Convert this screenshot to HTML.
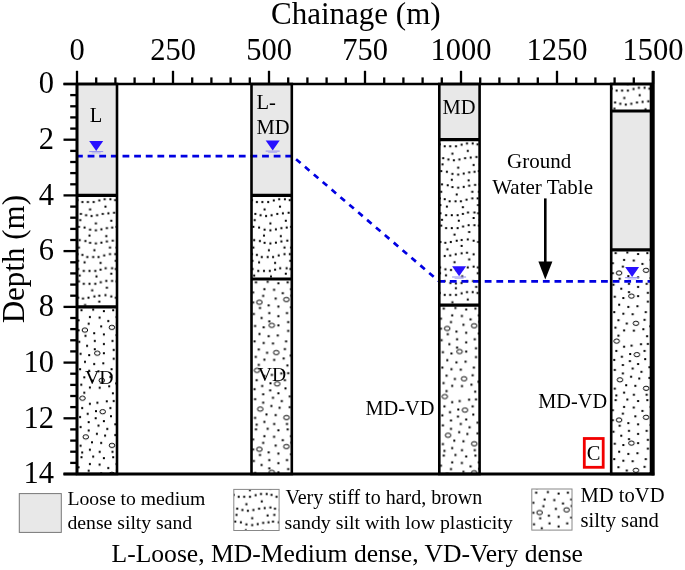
<!DOCTYPE html><html><head><meta charset="utf-8"><style>html,body{margin:0;padding:0;background:#fff;}svg{display:block;}text{font-family:"Liberation Serif", "Times New Roman", serif;fill:#000;}</style></head><body>
<svg width="685" height="570" viewBox="0 0 685 570">
<defs><pattern id="silt" patternUnits="userSpaceOnUse" x="0" y="0" width="37.8" height="148.6"><rect x="-0.20" y="4.20" width="2" height="2" fill="#000"/><rect x="37.60" y="4.20" width="2" height="2" fill="#000"/><rect x="4.80" y="6.10" width="2" height="2" fill="#000"/><rect x="10.30" y="6.10" width="2" height="2" fill="#000"/><rect x="16.10" y="6.10" width="2" height="2" fill="#000"/><rect x="21.70" y="4.50" width="2" height="2" fill="#000"/><rect x="27.10" y="3.30" width="2" height="2" fill="#000"/><rect x="32.80" y="3.30" width="2" height="2" fill="#000"/><rect x="12.50" y="13.50" width="2" height="2" fill="#000"/><rect x="27.90" y="10.70" width="2" height="2" fill="#000"/><rect x="3.30" y="18.00" width="2" height="2" fill="#000"/><rect x="8.50" y="19.30" width="2" height="2" fill="#000"/><rect x="14.00" y="20.10" width="2" height="2" fill="#000"/><rect x="19.50" y="19.30" width="2" height="2" fill="#000"/><rect x="25.20" y="18.00" width="2" height="2" fill="#000"/><rect x="30.80" y="17.40" width="2" height="2" fill="#000"/><rect x="36.50" y="16.80" width="2" height="2" fill="#000"/><rect x="-1.30" y="16.80" width="2" height="2" fill="#000"/><rect x="2.60" y="24.20" width="2" height="2" fill="#000"/><rect x="33.70" y="24.80" width="2" height="2" fill="#000"/><rect x="18.30" y="27.50" width="2" height="2" fill="#000"/><rect x="1.30" y="30.90" width="2" height="2" fill="#000"/><rect x="7.00" y="31.60" width="2" height="2" fill="#000"/><rect x="12.50" y="33.70" width="2" height="2" fill="#000"/><rect x="18.30" y="34.40" width="2" height="2" fill="#000"/><rect x="23.80" y="33.40" width="2" height="2" fill="#000"/><rect x="29.30" y="32.20" width="2" height="2" fill="#000"/><rect x="34.60" y="31.60" width="2" height="2" fill="#000"/><rect x="11.90" y="39.60" width="2" height="2" fill="#000"/><rect x="28.70" y="40.20" width="2" height="2" fill="#000"/><rect x="2.10" y="44.20" width="2" height="2" fill="#000"/><rect x="7.80" y="45.10" width="2" height="2" fill="#000"/><rect x="12.50" y="46.90" width="2" height="2" fill="#000"/><rect x="18.30" y="47.50" width="2" height="2" fill="#000"/><rect x="23.80" y="46.70" width="2" height="2" fill="#000"/><rect x="29.30" y="45.50" width="2" height="2" fill="#000"/><rect x="35.20" y="44.70" width="2" height="2" fill="#000"/><rect x="1.30" y="51.60" width="2" height="2" fill="#000"/><rect x="16.80" y="54.30" width="2" height="2" fill="#000"/><rect x="32.40" y="51.60" width="2" height="2" fill="#000"/><rect x="4.80" y="59.00" width="2" height="2" fill="#000"/><rect x="9.70" y="61.10" width="2" height="2" fill="#000"/><rect x="15.60" y="61.10" width="2" height="2" fill="#000"/><rect x="21.00" y="61.10" width="2" height="2" fill="#000"/><rect x="26.60" y="59.50" width="2" height="2" fill="#000"/><rect x="32.40" y="58.20" width="2" height="2" fill="#000"/><rect x="-0.10" y="58.20" width="2" height="2" fill="#000"/><rect x="37.70" y="58.20" width="2" height="2" fill="#000"/><rect x="7.00" y="66.40" width="2" height="2" fill="#000"/><rect x="23.00" y="67.00" width="2" height="2" fill="#000"/><rect x="0.40" y="64.90" width="2" height="2" fill="#000"/><rect x="0.50" y="73.10" width="2" height="2" fill="#000"/><rect x="6.20" y="75.00" width="2" height="2" fill="#000"/><rect x="11.90" y="75.00" width="2" height="2" fill="#000"/><rect x="17.70" y="75.00" width="2" height="2" fill="#000"/><rect x="23.00" y="73.70" width="2" height="2" fill="#000"/><rect x="28.10" y="72.30" width="2" height="2" fill="#000"/><rect x="34.50" y="72.30" width="2" height="2" fill="#000"/><rect x="2.10" y="79.60" width="2" height="2" fill="#000"/><rect x="18.90" y="80.50" width="2" height="2" fill="#000"/><rect x="33.70" y="77.80" width="2" height="2" fill="#000"/><rect x="1.30" y="85.40" width="2" height="2" fill="#000"/><rect x="6.20" y="87.90" width="2" height="2" fill="#000"/><rect x="11.90" y="87.90" width="2" height="2" fill="#000"/><rect x="17.70" y="87.90" width="2" height="2" fill="#000"/><rect x="23.20" y="86.30" width="2" height="2" fill="#000"/><rect x="28.70" y="85.00" width="2" height="2" fill="#000"/><rect x="34.50" y="85.00" width="2" height="2" fill="#000"/><rect x="14.60" y="94.40" width="2" height="2" fill="#000"/><rect x="29.30" y="91.80" width="2" height="2" fill="#000"/><rect x="0.50" y="101.80" width="2" height="2" fill="#000"/><rect x="5.40" y="102.60" width="2" height="2" fill="#000"/><rect x="10.90" y="101.80" width="2" height="2" fill="#000"/><rect x="16.80" y="100.50" width="2" height="2" fill="#000"/><rect x="21.70" y="99.80" width="2" height="2" fill="#000"/><rect x="27.90" y="99.20" width="2" height="2" fill="#000"/><rect x="33.70" y="100.50" width="2" height="2" fill="#000"/><rect x="21.70" y="105.70" width="2" height="2" fill="#000"/><rect x="7.50" y="109.10" width="2" height="2" fill="#000"/><rect x="4.80" y="115.80" width="2" height="2" fill="#000"/><rect x="10.30" y="115.30" width="2" height="2" fill="#000"/><rect x="15.80" y="114.10" width="2" height="2" fill="#000"/><rect x="21.70" y="113.10" width="2" height="2" fill="#000"/><rect x="27.10" y="112.50" width="2" height="2" fill="#000"/><rect x="33.70" y="114.10" width="2" height="2" fill="#000"/><rect x="29.30" y="119.20" width="2" height="2" fill="#000"/><rect x="14.60" y="122.00" width="2" height="2" fill="#000"/><rect x="0.20" y="127.20" width="2" height="2" fill="#000"/><rect x="5.50" y="129.10" width="2" height="2" fill="#000"/><rect x="11.10" y="129.80" width="2" height="2" fill="#000"/><rect x="16.60" y="130.00" width="2" height="2" fill="#000"/><rect x="22.20" y="128.80" width="2" height="2" fill="#000"/><rect x="27.90" y="127.20" width="2" height="2" fill="#000"/><rect x="33.70" y="126.40" width="2" height="2" fill="#000"/><rect x="0.10" y="133.00" width="2" height="2" fill="#000"/><rect x="37.90" y="133.00" width="2" height="2" fill="#000"/><rect x="6.10" y="135.10" width="2" height="2" fill="#000"/><rect x="22.30" y="136.10" width="2" height="2" fill="#000"/><rect x="4.80" y="140.90" width="2" height="2" fill="#000"/><rect x="10.50" y="142.80" width="2" height="2" fill="#000"/><rect x="16.00" y="143.20" width="2" height="2" fill="#000"/><rect x="21.60" y="142.80" width="2" height="2" fill="#000"/><rect x="27.20" y="140.90" width="2" height="2" fill="#000"/><rect x="33.20" y="140.90" width="2" height="2" fill="#000"/><rect x="36.30" y="146.70" width="2" height="2" fill="#000"/><rect x="36.30" y="-1.90" width="2" height="2" fill="#000"/><rect x="-1.50" y="146.70" width="2" height="2" fill="#000"/><rect x="-1.50" y="-1.90" width="2" height="2" fill="#000"/><rect x="16.00" y="-0.60" width="2" height="2" fill="#000"/><rect x="16.00" y="148.00" width="2" height="2" fill="#000"/></pattern><pattern id="sand" patternUnits="userSpaceOnUse" x="0" y="0" width="42" height="147"><rect x="3.50" y="2.10" width="2" height="2" fill="#000"/><rect x="15.20" y="1.50" width="2" height="2" fill="#000"/><rect x="25.90" y="3.00" width="2" height="2" fill="#000"/><rect x="35.20" y="2.10" width="2" height="2" fill="#000"/><rect x="11.90" y="8.90" width="2" height="2" fill="#000"/><rect x="21.60" y="9.50" width="2" height="2" fill="#000"/><rect x="30.30" y="12.90" width="2" height="2" fill="#000"/><rect x="0.60" y="12.20" width="2" height="2" fill="#000"/><rect x="10.70" y="15.60" width="2" height="2" fill="#000"/><rect x="23.20" y="18.30" width="2" height="2" fill="#000"/><rect x="0.60" y="22.20" width="2" height="2" fill="#000"/><rect x="16.20" y="25.10" width="2" height="2" fill="#000"/><rect x="25.90" y="26.30" width="2" height="2" fill="#000"/><rect x="7.50" y="27.70" width="2" height="2" fill="#000"/><rect x="1.30" y="33.70" width="2" height="2" fill="#000"/><rect x="16.80" y="32.80" width="2" height="2" fill="#000"/><rect x="25.90" y="35.90" width="2" height="2" fill="#000"/><rect x="34.50" y="32.80" width="2" height="2" fill="#000"/><rect x="9.10" y="37.70" width="2" height="2" fill="#000"/><rect x="16.80" y="41.10" width="2" height="2" fill="#000"/><rect x="35.70" y="41.80" width="2" height="2" fill="#000"/><rect x="2.60" y="45.70" width="2" height="2" fill="#000"/><rect x="11.20" y="47.00" width="2" height="2" fill="#000"/><rect x="25.90" y="45.10" width="2" height="2" fill="#000"/><rect x="35.70" y="50.60" width="2" height="2" fill="#000"/><rect x="7.00" y="53.70" width="2" height="2" fill="#000"/><rect x="16.20" y="55.90" width="2" height="2" fill="#000"/><rect x="25.30" y="55.20" width="2" height="2" fill="#000"/><rect x="2.10" y="61.10" width="2" height="2" fill="#000"/><rect x="11.20" y="62.70" width="2" height="2" fill="#000"/><rect x="20.50" y="63.20" width="2" height="2" fill="#000"/><rect x="33.60" y="61.10" width="2" height="2" fill="#000"/><rect x="38.60" y="8.90" width="2" height="2" fill="#000"/><rect x="38.90" y="15.40" width="2" height="2" fill="#000"/><rect x="38.60" y="27.00" width="2" height="2" fill="#000"/><rect x="6.30" y="69.20" width="2" height="2" fill="#000"/><rect x="14.60" y="72.50" width="2" height="2" fill="#000"/><rect x="32.40" y="68.80" width="2" height="2" fill="#000"/><rect x="3.30" y="76.60" width="2" height="2" fill="#000"/><rect x="11.90" y="79.40" width="2" height="2" fill="#000"/><rect x="21.70" y="79.60" width="2" height="2" fill="#000"/><rect x="31.20" y="78.20" width="2" height="2" fill="#000"/><rect x="38.20" y="75.30" width="2" height="2" fill="#000"/><rect x="6.30" y="84.60" width="2" height="2" fill="#000"/><rect x="34.90" y="85.20" width="2" height="2" fill="#000"/><rect x="35.70" y="92.90" width="2" height="2" fill="#000"/><rect x="11.90" y="95.70" width="2" height="2" fill="#000"/><rect x="19.40" y="94.60" width="2" height="2" fill="#000"/><rect x="28.80" y="93.20" width="2" height="2" fill="#000"/><rect x="4.20" y="99.90" width="2" height="2" fill="#000"/><rect x="18.00" y="103.00" width="2" height="2" fill="#000"/><rect x="32.40" y="99.90" width="2" height="2" fill="#000"/><rect x="9.70" y="105.70" width="2" height="2" fill="#000"/><rect x="2.10" y="108.90" width="2" height="2" fill="#000"/><rect x="17.70" y="110.10" width="2" height="2" fill="#000"/><rect x="33.00" y="108.10" width="2" height="2" fill="#000"/><rect x="10.70" y="114.00" width="2" height="2" fill="#000"/><rect x="25.90" y="113.00" width="2" height="2" fill="#000"/><rect x="20.50" y="117.50" width="2" height="2" fill="#000"/><rect x="37.30" y="116.20" width="2" height="2" fill="#000"/><rect x="2.60" y="118.90" width="2" height="2" fill="#000"/><rect x="10.70" y="122.40" width="2" height="2" fill="#000"/><rect x="29.30" y="120.80" width="2" height="2" fill="#000"/><rect x="18.90" y="125.70" width="2" height="2" fill="#000"/><rect x="27.10" y="127.50" width="2" height="2" fill="#000"/><rect x="37.30" y="126.90" width="2" height="2" fill="#000"/><rect x="14.00" y="134.20" width="2" height="2" fill="#000"/><rect x="23.20" y="134.80" width="2" height="2" fill="#000"/><rect x="2.60" y="137.60" width="2" height="2" fill="#000"/><rect x="11.90" y="141.60" width="2" height="2" fill="#000"/><rect x="4.20" y="144.40" width="2" height="2" fill="#000"/><rect x="21.70" y="143.70" width="2" height="2" fill="#000"/><rect x="34.50" y="143.70" width="2" height="2" fill="#000"/><ellipse cx="7.9" cy="23.0" rx="2.8" ry="2.15" fill="none" stroke="#000" stroke-width="1.0"/><ellipse cx="34.9" cy="20.3" rx="2.8" ry="2.15" fill="none" stroke="#000" stroke-width="1.0"/><ellipse cx="20.3" cy="46.1" rx="2.8" ry="2.15" fill="none" stroke="#000" stroke-width="1.0"/><ellipse cx="24.8" cy="73.3" rx="2.8" ry="2.15" fill="none" stroke="#000" stroke-width="1.0"/><ellipse cx="5.5" cy="91.1" rx="2.8" ry="2.15" fill="none" stroke="#000" stroke-width="1.0"/><ellipse cx="25.7" cy="104.6" rx="2.8" ry="2.15" fill="none" stroke="#000" stroke-width="1.0"/><ellipse cx="8.8" cy="129.8" rx="2.8" ry="2.15" fill="none" stroke="#000" stroke-width="1.0"/><ellipse cx="35.0" cy="138.3" rx="2.8" ry="2.15" fill="none" stroke="#000" stroke-width="1.0"/></pattern></defs>
<rect width="685" height="570" fill="#fff"/>
<rect x="77.0" y="84.0" width="40.0" height="111.4" fill="#e8e8e8"/>
<rect x="77.0" y="195.4" width="40.0" height="111.4" fill="#fff"/><g transform="translate(76.60,194.93)"><rect x="0.40" y="0.50" width="40.0" height="111.4" fill="url(#silt)"/></g>
<rect x="77.0" y="306.9" width="40.0" height="167.1" fill="#fff"/><g transform="translate(77.00,307.16)"><rect x="0.00" y="-0.30" width="40.0" height="167.1" fill="url(#sand)"/></g>
<rect x="251.5" y="84.0" width="40.3" height="111.4" fill="#e8e8e8"/>
<rect x="251.5" y="195.4" width="40.3" height="83.6" fill="#fff"/><g transform="translate(251.10,194.93)"><rect x="0.40" y="0.50" width="40.3" height="83.6" fill="url(#silt)"/></g>
<rect x="251.5" y="279.0" width="40.3" height="195.0" fill="#fff"/><g transform="translate(251.50,279.30)"><rect x="0.00" y="-0.30" width="40.3" height="195.0" fill="url(#sand)"/></g>
<rect x="439.3" y="84.0" width="40.3" height="55.7" fill="#e8e8e8"/>
<rect x="439.3" y="139.7" width="40.3" height="165.5" fill="#fff"/><g transform="translate(438.90,139.21)"><rect x="0.40" y="0.50" width="40.3" height="165.5" fill="url(#silt)"/></g>
<rect x="439.3" y="305.2" width="40.3" height="168.8" fill="#fff"/><g transform="translate(439.30,305.49)"><rect x="0.00" y="-0.30" width="40.3" height="168.8" fill="url(#sand)"/></g>
<rect x="611.2" y="84.0" width="39.8" height="27.0" fill="#fff"/><g transform="translate(610.80,83.50)"><rect x="0.40" y="0.50" width="39.8" height="27.0" fill="url(#silt)"/></g>
<rect x="611.2" y="111.0" width="39.8" height="138.7" fill="#e8e8e8"/>
<rect x="611.2" y="249.8" width="39.8" height="224.2" fill="#fff"/><g transform="translate(611.20,250.05)"><rect x="0.00" y="-0.30" width="39.8" height="224.2" fill="url(#sand)"/></g>
<path d="M77 156.2 L291.8 156.2" fill="none" stroke="#0000e2" stroke-width="2.7" stroke-dasharray="6.8 4.83" stroke-dashoffset="1.0"/>
<path d="M292.5 156.2 L439 281.3" fill="none" stroke="#0000e2" stroke-width="2.7" stroke-dasharray="5.9 5.77" stroke-dashoffset="6.95"/>
<path d="M439 281.3 L653 281.3" fill="none" stroke="#0000e2" stroke-width="2.7" stroke-dasharray="6.8 4.83" stroke-dashoffset="0.8"/>
<line x1="77.0" y1="195.4" x2="117.0" y2="195.4" stroke="#000" stroke-width="3.2"/>
<line x1="77.0" y1="306.9" x2="117.0" y2="306.9" stroke="#000" stroke-width="3.2"/>
<rect x="77.0" y="84.0" width="40.0" height="390.0" fill="none" stroke="#000" stroke-width="2.6"/>
<line x1="251.5" y1="195.4" x2="291.8" y2="195.4" stroke="#000" stroke-width="3.2"/>
<line x1="251.5" y1="279.0" x2="291.8" y2="279.0" stroke="#000" stroke-width="3.2"/>
<rect x="251.5" y="84.0" width="40.3" height="390.0" fill="none" stroke="#000" stroke-width="2.6"/>
<line x1="439.3" y1="139.7" x2="479.6" y2="139.7" stroke="#000" stroke-width="3.2"/>
<line x1="439.3" y1="305.2" x2="479.6" y2="305.2" stroke="#000" stroke-width="3.2"/>
<rect x="439.3" y="84.0" width="40.3" height="390.0" fill="none" stroke="#000" stroke-width="2.6"/>
<line x1="611.2" y1="111.0" x2="651.0" y2="111.0" stroke="#000" stroke-width="3.2"/>
<line x1="611.2" y1="249.8" x2="651.0" y2="249.8" stroke="#000" stroke-width="3.2"/>
<rect x="611.2" y="84.0" width="39.8" height="390.0" fill="none" stroke="#000" stroke-width="2.6"/>
<line x1="63.5" y1="84.0" x2="653.0" y2="84.0" stroke="#000" stroke-width="2.6"/>
<line x1="63.5" y1="474.0" x2="654.3" y2="474.0" stroke="#000" stroke-width="3"/>
<line x1="77.0" y1="84.0" x2="77.0" y2="474.0" stroke="#000" stroke-width="2.6"/>
<line x1="653.2" y1="71.0" x2="653.2" y2="475.5" stroke="#000" stroke-width="3"/>
<line x1="77.0" y1="70.8" x2="77.0" y2="84.0" stroke="#000" stroke-width="2.3"/>
<line x1="96.2" y1="77.4" x2="96.2" y2="84.0" stroke="#000" stroke-width="2.3"/>
<line x1="115.4" y1="77.4" x2="115.4" y2="84.0" stroke="#000" stroke-width="2.3"/>
<line x1="134.6" y1="77.4" x2="134.6" y2="84.0" stroke="#000" stroke-width="2.3"/>
<line x1="153.8" y1="77.4" x2="153.8" y2="84.0" stroke="#000" stroke-width="2.3"/>
<line x1="173.0" y1="70.8" x2="173.0" y2="84.0" stroke="#000" stroke-width="2.3"/>
<line x1="192.2" y1="77.4" x2="192.2" y2="84.0" stroke="#000" stroke-width="2.3"/>
<line x1="211.4" y1="77.4" x2="211.4" y2="84.0" stroke="#000" stroke-width="2.3"/>
<line x1="230.6" y1="77.4" x2="230.6" y2="84.0" stroke="#000" stroke-width="2.3"/>
<line x1="249.8" y1="77.4" x2="249.8" y2="84.0" stroke="#000" stroke-width="2.3"/>
<line x1="269.0" y1="70.8" x2="269.0" y2="84.0" stroke="#000" stroke-width="2.3"/>
<line x1="288.2" y1="77.4" x2="288.2" y2="84.0" stroke="#000" stroke-width="2.3"/>
<line x1="307.4" y1="77.4" x2="307.4" y2="84.0" stroke="#000" stroke-width="2.3"/>
<line x1="326.6" y1="77.4" x2="326.6" y2="84.0" stroke="#000" stroke-width="2.3"/>
<line x1="345.8" y1="77.4" x2="345.8" y2="84.0" stroke="#000" stroke-width="2.3"/>
<line x1="365.0" y1="70.8" x2="365.0" y2="84.0" stroke="#000" stroke-width="2.3"/>
<line x1="384.2" y1="77.4" x2="384.2" y2="84.0" stroke="#000" stroke-width="2.3"/>
<line x1="403.4" y1="77.4" x2="403.4" y2="84.0" stroke="#000" stroke-width="2.3"/>
<line x1="422.6" y1="77.4" x2="422.6" y2="84.0" stroke="#000" stroke-width="2.3"/>
<line x1="441.8" y1="77.4" x2="441.8" y2="84.0" stroke="#000" stroke-width="2.3"/>
<line x1="461.0" y1="70.8" x2="461.0" y2="84.0" stroke="#000" stroke-width="2.3"/>
<line x1="480.2" y1="77.4" x2="480.2" y2="84.0" stroke="#000" stroke-width="2.3"/>
<line x1="499.4" y1="77.4" x2="499.4" y2="84.0" stroke="#000" stroke-width="2.3"/>
<line x1="518.6" y1="77.4" x2="518.6" y2="84.0" stroke="#000" stroke-width="2.3"/>
<line x1="537.8" y1="77.4" x2="537.8" y2="84.0" stroke="#000" stroke-width="2.3"/>
<line x1="557.0" y1="70.8" x2="557.0" y2="84.0" stroke="#000" stroke-width="2.3"/>
<line x1="576.2" y1="77.4" x2="576.2" y2="84.0" stroke="#000" stroke-width="2.3"/>
<line x1="595.4" y1="77.4" x2="595.4" y2="84.0" stroke="#000" stroke-width="2.3"/>
<line x1="614.6" y1="77.4" x2="614.6" y2="84.0" stroke="#000" stroke-width="2.3"/>
<line x1="633.8" y1="77.4" x2="633.8" y2="84.0" stroke="#000" stroke-width="2.3"/>
<line x1="653.0" y1="70.8" x2="653.0" y2="84.0" stroke="#000" stroke-width="2.3"/>
<line x1="63.5" y1="84.0" x2="77.0" y2="84.0" stroke="#000" stroke-width="2.3"/>
<line x1="70.2" y1="95.1" x2="77.0" y2="95.1" stroke="#000" stroke-width="2.3"/>
<line x1="70.2" y1="106.3" x2="77.0" y2="106.3" stroke="#000" stroke-width="2.3"/>
<line x1="70.2" y1="117.4" x2="77.0" y2="117.4" stroke="#000" stroke-width="2.3"/>
<line x1="70.2" y1="128.6" x2="77.0" y2="128.6" stroke="#000" stroke-width="2.3"/>
<line x1="63.5" y1="139.7" x2="77.0" y2="139.7" stroke="#000" stroke-width="2.3"/>
<line x1="70.2" y1="150.9" x2="77.0" y2="150.9" stroke="#000" stroke-width="2.3"/>
<line x1="70.2" y1="162.0" x2="77.0" y2="162.0" stroke="#000" stroke-width="2.3"/>
<line x1="70.2" y1="173.1" x2="77.0" y2="173.1" stroke="#000" stroke-width="2.3"/>
<line x1="70.2" y1="184.3" x2="77.0" y2="184.3" stroke="#000" stroke-width="2.3"/>
<line x1="63.5" y1="195.4" x2="77.0" y2="195.4" stroke="#000" stroke-width="2.3"/>
<line x1="70.2" y1="206.6" x2="77.0" y2="206.6" stroke="#000" stroke-width="2.3"/>
<line x1="70.2" y1="217.7" x2="77.0" y2="217.7" stroke="#000" stroke-width="2.3"/>
<line x1="70.2" y1="228.9" x2="77.0" y2="228.9" stroke="#000" stroke-width="2.3"/>
<line x1="70.2" y1="240.0" x2="77.0" y2="240.0" stroke="#000" stroke-width="2.3"/>
<line x1="63.5" y1="251.1" x2="77.0" y2="251.1" stroke="#000" stroke-width="2.3"/>
<line x1="70.2" y1="262.3" x2="77.0" y2="262.3" stroke="#000" stroke-width="2.3"/>
<line x1="70.2" y1="273.4" x2="77.0" y2="273.4" stroke="#000" stroke-width="2.3"/>
<line x1="70.2" y1="284.6" x2="77.0" y2="284.6" stroke="#000" stroke-width="2.3"/>
<line x1="70.2" y1="295.7" x2="77.0" y2="295.7" stroke="#000" stroke-width="2.3"/>
<line x1="63.5" y1="306.9" x2="77.0" y2="306.9" stroke="#000" stroke-width="2.3"/>
<line x1="70.2" y1="318.0" x2="77.0" y2="318.0" stroke="#000" stroke-width="2.3"/>
<line x1="70.2" y1="329.1" x2="77.0" y2="329.1" stroke="#000" stroke-width="2.3"/>
<line x1="70.2" y1="340.3" x2="77.0" y2="340.3" stroke="#000" stroke-width="2.3"/>
<line x1="70.2" y1="351.4" x2="77.0" y2="351.4" stroke="#000" stroke-width="2.3"/>
<line x1="63.5" y1="362.6" x2="77.0" y2="362.6" stroke="#000" stroke-width="2.3"/>
<line x1="70.2" y1="373.7" x2="77.0" y2="373.7" stroke="#000" stroke-width="2.3"/>
<line x1="70.2" y1="384.9" x2="77.0" y2="384.9" stroke="#000" stroke-width="2.3"/>
<line x1="70.2" y1="396.0" x2="77.0" y2="396.0" stroke="#000" stroke-width="2.3"/>
<line x1="70.2" y1="407.1" x2="77.0" y2="407.1" stroke="#000" stroke-width="2.3"/>
<line x1="63.5" y1="418.3" x2="77.0" y2="418.3" stroke="#000" stroke-width="2.3"/>
<line x1="70.2" y1="429.4" x2="77.0" y2="429.4" stroke="#000" stroke-width="2.3"/>
<line x1="70.2" y1="440.6" x2="77.0" y2="440.6" stroke="#000" stroke-width="2.3"/>
<line x1="70.2" y1="451.7" x2="77.0" y2="451.7" stroke="#000" stroke-width="2.3"/>
<line x1="70.2" y1="462.9" x2="77.0" y2="462.9" stroke="#000" stroke-width="2.3"/>
<line x1="63.5" y1="474.0" x2="77.0" y2="474.0" stroke="#000" stroke-width="2.3"/>
<text x="77.0" y="60" font-size="30.5" text-anchor="middle">0</text>
<text x="173.0" y="60" font-size="30.5" text-anchor="middle">250</text>
<text x="269.0" y="60" font-size="30.5" text-anchor="middle">500</text>
<text x="365.0" y="60" font-size="30.5" text-anchor="middle">750</text>
<text x="461.0" y="60" font-size="30.5" text-anchor="middle">1000</text>
<text x="557.0" y="60" font-size="30.5" text-anchor="middle">1250</text>
<text x="653.0" y="60" font-size="30.5" text-anchor="middle">1500</text>
<text x="54" y="93.2" font-size="30.5" text-anchor="end">0</text>
<text x="54" y="148.9" font-size="30.5" text-anchor="end">2</text>
<text x="54" y="204.6" font-size="30.5" text-anchor="end">4</text>
<text x="54" y="260.3" font-size="30.5" text-anchor="end">6</text>
<text x="54" y="316.1" font-size="30.5" text-anchor="end">8</text>
<text x="54" y="371.8" font-size="30.5" text-anchor="end">10</text>
<text x="54" y="427.5" font-size="30.5" text-anchor="end">12</text>
<text x="54" y="483.2" font-size="30.5" text-anchor="end">14</text>
<text x="271" y="24" font-size="31">Chainage (m)</text>
<text transform="translate(23.6,323.3) rotate(-90)" font-size="31">Depth (m)</text>
<path d="M89.2 140.9 L103.2 140.9 L96.2 150.9 Z" fill="#2810ff"/><line x1="89.2" y1="151.6" x2="103.2" y2="151.6" stroke="#8f8cf0" stroke-width="1"/><line x1="91.7" y1="152.9" x2="100.7" y2="152.9" stroke="#a9a7f2" stroke-width="0.9"/>
<path d="M265.7 140.4 L279.7 140.4 L272.7 150.4 Z" fill="#2810ff"/><line x1="265.7" y1="151.1" x2="279.7" y2="151.1" stroke="#8f8cf0" stroke-width="1"/><line x1="268.2" y1="152.4" x2="277.2" y2="152.4" stroke="#a9a7f2" stroke-width="0.9"/>
<path d="M452.1 266.3 L466.1 266.3 L459.1 276.3 Z" fill="#2810ff"/><line x1="452.1" y1="277.0" x2="466.1" y2="277.0" stroke="#8f8cf0" stroke-width="1"/><line x1="454.6" y1="278.3" x2="463.6" y2="278.3" stroke="#a9a7f2" stroke-width="0.9"/>
<path d="M625.1 267.0 L639.1 267.0 L632.1 277.0 Z" fill="#2810ff"/><line x1="625.1" y1="277.7" x2="639.1" y2="277.7" stroke="#8f8cf0" stroke-width="1"/><line x1="627.6" y1="279.0" x2="636.6" y2="279.0" stroke="#a9a7f2" stroke-width="0.9"/>
<line x1="545.3" y1="198.4" x2="545.3" y2="263" stroke="#000" stroke-width="2.6"/>
<path d="M538.4 261.6 L552.4 261.6 L545.3 279.6 Z" fill="#000"/>
<text x="539.2" y="168.3" font-size="21" text-anchor="middle">Ground</text>
<text x="542.6" y="194" font-size="21" text-anchor="middle">Water Table</text>
<text x="96" y="122" font-size="20.5" text-anchor="middle">L</text>
<text x="256.5" y="108.5" font-size="20.5">L-</text>
<text x="256.5" y="134.0" font-size="20.5">MD</text>
<text x="459" y="113.8" font-size="20.5" text-anchor="middle">MD</text>
<text x="84.9" y="383.6" font-size="19.8">VD</text>
<text x="257.8" y="381" font-size="19.6">VD</text>
<text x="365.4" y="415.2" font-size="20.4">MD-VD</text>
<text x="538.3" y="407.6" font-size="20.3">MD-VD</text>
<rect x="584.3" y="438.5" width="18.9" height="28.8" fill="none" stroke="#f20000" stroke-width="2.8"/>
<text x="593.5" y="459.8" font-size="20.5" text-anchor="middle">C</text>
<rect x="19.3" y="493.6" width="42" height="38.8" fill="#e8e8e8" stroke="#777" stroke-width="1"/>
<text x="67.5" y="504.5" font-size="19.7">Loose to medium</text>
<text x="67.5" y="529" font-size="19.7">dense silty sand</text>
<rect x="233.8" y="489.4" width="45.3" height="41.1" fill="#fff"/><g transform="translate(232.90,489.70)"><rect x="0.90" y="-0.30" width="45.3" height="41.1" fill="url(#silt)"/></g>
<rect x="233.8" y="489.4" width="45.3" height="41.1" fill="none" stroke="#888" stroke-width="1"/>
<text x="285.5" y="504.2" font-size="20">Very stiff to hard, brown</text>
<text x="284.5" y="528.8" font-size="19.85">sandy silt with low plasticity</text>
<rect x="531.8" y="489.0" width="40.2" height="41.1" fill="#fff"/><g transform="translate(531.70,489.60)"><rect x="0.10" y="-0.60" width="40.2" height="41.1" fill="url(#sand)"/></g>
<rect x="531.8" y="489.0" width="40.2" height="41.1" fill="none" stroke="#888" stroke-width="1"/>
<text x="580.5" y="502.3" font-size="20.6">MD toVD</text>
<text x="580.5" y="527.4" font-size="20.6">silty sand</text>
<text x="111.5" y="562.4" font-size="25.6">L-Loose, MD-Medium dense, VD-Very dense</text>
</svg></body></html>
